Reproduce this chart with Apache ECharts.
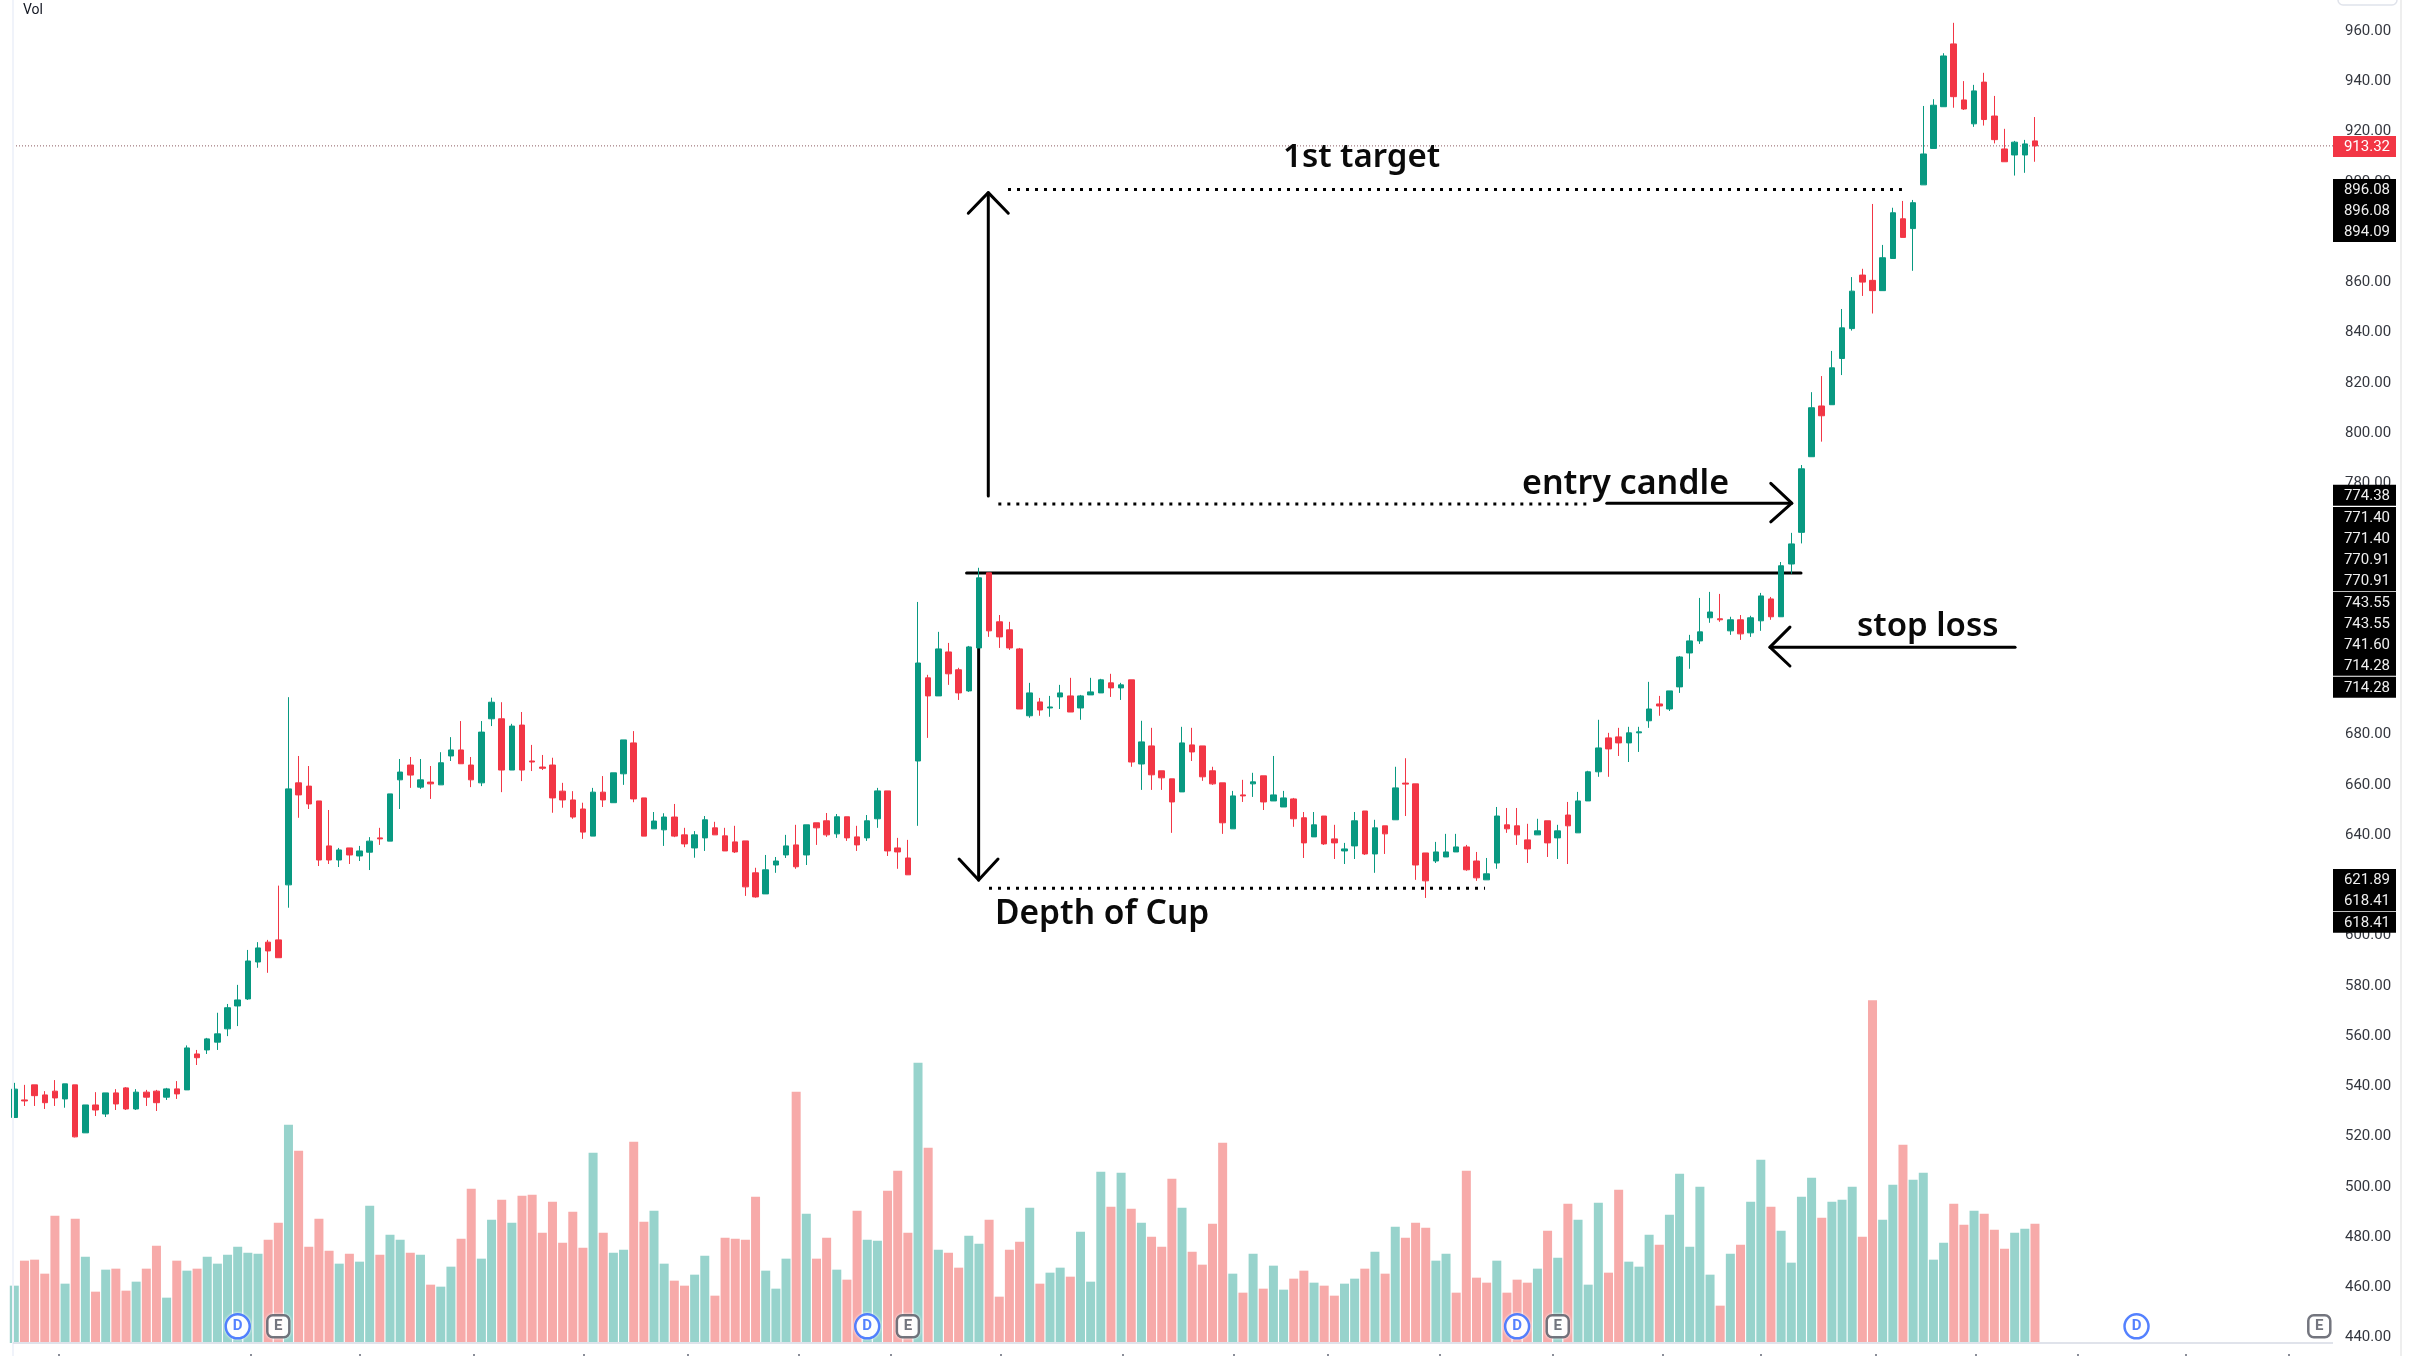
<!DOCTYPE html>
<html><head><meta charset="utf-8">
<style>html,body{margin:0;padding:0;background:#fff}#c{width:2413px;height:1356px}</style>
<script src="https://cdn.jsdelivr.net/npm/echarts@6/dist/echarts.min.js"></script>
</head><body><div id="c"></div>
<script>
// ---- values ----
const candleDir = ("uddddududu"+"dduddududu"+"uuuuuddudd"+"dduduuduud"+"uduudduudu"+"dddddddudu"+"udduudduud"+"dddduuudud"+"dudduudddu"+"dudduudddd"
  +"uduuduuudu"+"dudddudddd"+"ududuuddud"+"duudududdd"+"uuudduuddd"+"ududuuuddu"+"uuduuuuudu"+"duuduuuudu"+"uudduuduuu"+"udduddduud").split('');
const volumeDir = ("uddddududu"+"dduddududu"+"uuuuuddudd"+"dduduuduud"+"uduudduudu"+"dddddddudu"+"udduudduud"+"dddduuudud"+"dudduudddu"+"dudduudddd"
  +"uduuduuudu"+"dudddudddd"+"ududuuddud"+"duudududdd"+"uudddduddd"+"ududuuuddu"+"uuduuuuudu"+"duuduuuudu"+"uudduuduuu"+"udduddduud").split('');
const high = [540.4,539.6,539.6,537.1,541.5,540.0,539.6,531.6,536.7,536.4,
537.9,538.7,537.9,537.6,537.6,538.4,541.1,555.3,553.5,558.3,
568.3,571.8,579.4,593.3,596.4,597.3,618.9,693.9,670.5,666.5,
652.6,649.0,633.9,633.9,634.7,638.2,641.9,655.4,669.3,670.1,
669.3,666.5,672.0,678.0,684.4,670.1,684.4,693.7,691.9,683.3,
688.0,674.9,670.9,669.8,659.8,656.5,651.9,657.8,662.5,663.8,
676.9,680.4,653.8,648.2,647.7,651.4,641.9,640.6,646.6,644.3,
641.9,642.7,636.7,626.0,631.1,630.3,639.1,643.1,643.1,643.9,
647.8,647.4,646.3,642.7,647.0,657.8,656.6,637.9,637.1,731.8,
702.8,719.9,715.5,705.6,714.3,745.4,743.4,726.6,723.9,713.5,
699.6,693.6,694.4,698.8,701.6,694.8,701.6,701.2,703.2,699.6,
700.8,684.5,681.7,664.6,661.4,682.1,681.7,674.5,666.2,659.8,
656.6,661.0,663.8,662.6,670.5,656.6,653.8,648.2,648.2,646.6,
643.1,635.9,648.2,648.6,645.1,642.7,666.2,669.6,659.4,631.9,
636.3,639.5,639.5,635.1,632.3,629.9,650.2,649.8,649.8,643.5,
645.5,644.7,643.1,652.2,656.2,664.6,684.9,679.7,681.7,682.1,
682.1,700.0,694.4,696.4,710.3,718.7,733.4,735.8,735.0,725.9,
726.6,726.3,735.4,733.8,747.7,759.3,786.3,815.3,821.7,831.7,
848.4,861.1,864.4,890.2,873.9,888.7,891.4,891.8,929.2,931.9,
950.2,962.3,939.1,937.6,942.4,933.2,920.1,915.3,915.7,924.8];
const bodyTop = [537.9,533.6,539.6,535.6,537.1,540.0,539.6,531.6,531.6,536.4,
536.4,538.4,536.7,536.7,537.1,538.0,538.0,554.3,551.9,557.9,
559.9,570.3,573.4,588.9,594.1,596.4,597.3,657.4,659.8,658.5,
652.6,634.7,633.1,633.9,632.7,636.6,637.9,655.4,664.1,666.9,
661.0,660.1,667.8,672.9,672.9,666.9,680.0,691.9,685.3,682.4,
682.8,668.5,666.1,666.9,656.5,653.0,649.4,656.1,656.1,663.8,
676.9,675.7,653.8,644.6,646.2,646.2,639.1,639.1,645.1,641.9,
638.7,636.3,636.7,624.0,625.2,628.7,634.7,635.1,643.1,643.9,
644.7,646.3,646.3,638.3,644.7,656.6,656.6,633.9,629.9,707.5,
701.6,713.1,711.9,704.8,713.9,741.4,743.4,723.9,720.7,713.1,
695.6,692.0,690.0,695.6,694.4,694.4,696.0,700.8,699.6,698.8,
700.8,676.1,674.5,664.6,661.4,675.7,674.9,674.5,664.6,659.8,
654.6,655.0,660.2,662.6,655.0,653.8,653.4,645.9,643.1,646.6,
637.5,633.5,644.7,648.6,641.9,642.7,657.8,659.7,659.4,631.9,
632.3,632.3,634.3,634.3,628.7,623.6,646.6,643.1,642.7,637.1,
640.7,644.7,640.7,647.0,652.6,664.2,673.7,677.7,678.1,679.7,
680.1,689.2,691.2,696.4,709.9,716.3,719.9,727.8,725.1,724.7,
724.7,725.5,734.2,733.0,746.2,754.9,784.8,809.1,809.8,825.0,
840.9,855.5,861.9,859.8,868.8,886.7,884.3,890.7,910.1,929.5,
949.1,953.9,931.6,935.2,938.7,925.2,912.1,914.8,914.1,915.3];
const bodyBottom = [526.6,533.2,535.3,532.5,534.4,534.0,518.9,520.5,529.6,528.0,
532.0,530.0,530.0,534.7,532.5,534.7,536.0,537.6,550.4,553.5,
556.6,561.9,571.0,573.8,588.5,592.9,590.2,619.2,655.0,651.4,
629.1,629.1,629.1,631.1,630.7,632.2,637.5,636.6,661.0,662.9,
658.1,659.4,659.0,670.5,667.4,661.0,659.8,685.3,664.9,664.9,
664.9,668.1,665.6,653.8,653.0,646.2,640.2,638.6,653.0,651.9,
663.4,653.4,638.6,641.5,641.1,638.6,635.5,633.9,637.9,639.1,
632.7,632.3,618.4,614.4,615.6,627.1,631.1,626.4,631.1,641.9,
639.1,639.5,637.9,635.1,637.9,645.5,632.7,632.3,623.2,668.5,
694.4,694.4,703.2,695.6,696.4,713.5,720.3,717.9,713.5,689.2,
686.5,688.8,689.6,694.0,688.0,689.6,694.8,695.6,697.6,697.6,
668.1,667.3,663.0,661.8,652.2,656.2,672.1,662.2,659.4,643.9,
641.5,654.6,659.4,652.2,652.6,650.2,645.5,635.9,638.3,635.5,
635.9,632.7,634.7,631.5,631.5,639.5,645.1,659.3,627.1,620.8,
628.7,630.3,632.3,625.2,622.0,621.2,627.9,641.5,639.1,633.5,
639.1,635.9,637.9,642.7,639.9,652.6,664.2,673.3,675.7,675.7,
679.7,684.5,690.4,689.2,698.0,711.5,716.3,725.5,724.7,720.3,
719.1,719.5,724.3,725.9,725.9,746.9,759.5,789.6,805.9,810.3,
828.7,840.6,859.1,855.7,855.7,868.5,876.9,880.4,897.8,912.3,
928.9,932.9,928.0,922.1,923.8,915.8,907.0,909.7,909.7,913.32];
const low = [526.6,531.2,531.2,530.0,531.2,530.5,518.7,520.5,527.2,526.8,
529.6,529.6,529.6,531.2,529.2,533.6,534.0,537.6,547.5,551.9,
553.5,559.0,563.0,573.4,586.2,584.2,590.2,610.1,645.9,649.4,
626.7,627.5,626.3,627.5,628.7,625.1,635.1,636.6,649.4,657.8,
657.4,653.4,659.0,668.5,667.4,658.1,658.5,682.4,656.1,664.9,
660.5,664.5,664.9,647.9,649.9,645.5,637.5,638.6,650.2,651.9,
659.0,652.1,638.6,641.5,634.7,638.2,634.2,630.0,632.7,639.1,
632.7,631.9,614.8,614.1,615.6,624.0,629.9,625.6,627.1,635.1,
638.3,637.9,636.7,632.7,636.7,641.9,630.7,625.6,623.2,642.7,
677.7,694.4,698.8,692.8,696.0,713.5,717.9,713.5,712.7,689.2,
685.7,686.5,686.1,689.2,688.0,684.9,694.8,695.6,694.0,692.8,
666.2,657.0,657.0,657.0,639.9,656.2,668.5,660.6,659.0,639.5,
641.5,652.2,654.2,649.0,652.6,650.2,642.3,629.9,638.3,635.1,
629.5,627.5,629.5,631.1,624.0,631.5,645.1,646.6,621.2,614.0,
627.9,630.3,632.3,624.8,620.8,621.2,625.6,639.9,635.1,627.9,
639.1,630.3,629.5,627.5,639.9,652.6,662.2,662.2,670.5,668.1,
672.1,681.7,686.5,688.4,695.6,705.2,715.1,723.5,723.9,718.7,
716.7,717.9,720.3,724.7,725.9,743.0,755.1,789.6,795.6,810.3,
822.1,839.8,853.6,846.6,855.7,868.5,876.9,863.6,897.8,912.3,
928.9,928.5,927.6,920.9,921.4,914.3,907.0,901.5,902.6,907.0];
const volume = [172,247,250,208,382,178,373,259,154,220,
223,157,184,223,292,136,247,217,223,259,
238,265,289,271,268,310,361,655,577,289,
373,277,238,268,244,412,265,325,310,271,
265,175,169,229,313,463,253,370,430,361,
442,445,331,424,301,394,286,571,331,271,
280,604,364,397,238,187,172,205,262,142,
316,313,310,439,217,163,253,754,388,253,
316,220,190,397,310,307,457,517,331,841,
586,280,271,226,322,298,370,139,280,304,
406,178,211,226,199,334,184,514,409,511,
403,361,319,289,493,406,274,235,358,601,
208,151,268,163,232,160,193,217,181,172,
142,178,193,223,274,208,349,316,361,346,
247,268,151,517,196,181,247,151,190,181,
223,337,256,418,370,175,421,211,460,244,
229,325,295,385,508,289,469,205,112,268,
295,424,550,409,337,241,439,496,376,424,
430,469,319,1028,370,475,595,490,511,250,
301,418,355,397,388,340,283,331,343,358];
const priceTicks = [440,460,480,500,520,540,560,580,600,620,640,660,680,700,720,740,760,780,800,820,840,860,880,900,920,940,960];
const lastPrice = 913.32;
const dividendBars = [22,84,148,209];
const earningsBars = [26,88,152,227];
const tagStacks = [
  {rows:['896.08','896.08','894.09'], top:179},
  {rows:['774.38'], top:484.7},
  {rows:['771.40','771.40','770.91','770.91'], top:507},
  {rows:['743.55','743.55','741.60','714.28'], top:591.7},
  {rows:['714.28'], top:676.7},
  {rows:['621.89','618.41'], top:869},
  {rows:['618.41'], top:911.7}
];
// Drawn annotations, in [bar index, price]
const solidStrokes = [
  [[93.78,743.3],[175.96,743.3]],
  [[94.97,714.3],[94.97,621.1]],
  [[93.04,629.5],[94.97,621.1],[96.88,629.5]],
  [[95.92,774.0],[95.92,894.7]],
  [[93.95,886.5],[95.92,894.7],[97.89,886.5]],
  [[156.83,771.1],[175.05,771.1]],
  [[172.98,779.0],[175.05,771.1],[172.98,763.7]],
  [[197.04,713.8],[172.9,713.8]],
  [[174.87,721.8],[172.9,713.8],[174.87,706.3]]
];
const dottedStrokes = [
  [[97.86,896.0],[185.9,896.0]],
  [[96.91,770.8],[154.85,770.8]],
  [[95.99,617.9],[144.84,617.9]]
];
const noteTexts = [
  {text:'1st target', x:1283, y:158, size:33},
  {text:'entry candle', x:1522, y:484, size:34},
  {text:'stop loss', x:1857, y:626.5, size:33},
  {text:'Depth of Cup', x:995, y:914, size:33.5}
];
const timeStubX = [58,250,359,473,583,687,798,890,1000,1122,1233,1327,1439,1552,1662,1760,1875,1975,2077,2185,2288];

// ---- chart ----
const GREEN='#089981', RED='#f23645', VGREEN='#97d3cc', VRED='#f7aaa9';
const candles = high.map((h,i)=> candleDir[i]==='u'
  ? [i,bodyBottom[i],bodyTop[i],low[i],h] : [i,bodyTop[i],bodyBottom[i],low[i],h]);
const bars = volume.map((v,i)=>({value:[i,v],itemStyle:{color:volumeDir[i]==='u'?VGREEN:VRED}}));
const chart = echarts.init(document.getElementById('c'),null,{renderer:'canvas'});
const strokeSeries = (d,style,z)=>({type:'line',xAxisIndex:0,yAxisIndex:0,data:d,showSymbol:false,symbol:'none',silent:true,animation:false,z,lineStyle:style,clip:true});
const g = [];
const rect=(x,y,w,h,fill,extra)=>Object.assign({type:'rect',silent:true,z:100,shape:{x,y,width:w,height:h},style:{fill}},extra||{});
g.push(rect(12,0,2,1356,'#f0f3fa'));
g.push(rect(2400,0,2,1356,'#eeeeee'));
g.push(rect(13,1342,2320,2,'#e0e3eb'));
g.push({type:'rect',silent:true,z:100,shape:{x:2338,y:-20,width:59,height:25,r:5},style:{fill:'none',stroke:'#e0e3eb',lineWidth:1.5}});
g.push({type:'text',silent:true,z:100,style:{text:'Vol',x:23,y:10.5,font:'14px Roboto',fill:'#131722',verticalAlign:'middle'}});
timeStubX.forEach(x=>g.push(rect(x,1354,2,2,'#8a8d98')));
tagStacks.forEach(s=>{
  g.push(rect(2333,s.top,63,21*s.rows.length,'#000000',{z:101}));
  s.rows.forEach((t,i)=>g.push({type:'text',silent:true,z:102,style:{text:t,x:2390,y:s.top+21*i+11.5,align:'right',verticalAlign:'middle',font:'15px Roboto',fill:'#eeeeee'}}));
});
g.push(rect(2333,136,63,21,RED,{z:101}));
g.push({type:'text',silent:true,z:102,style:{text:lastPrice.toFixed(2),x:2390,y:147.5,align:'right',verticalAlign:'middle',font:'15px Roboto',fill:'#ffffff'}});
noteTexts.forEach(n=>g.push({type:'text',silent:true,z:110,style:{text:n.text,x:n.x,y:n.y,verticalAlign:'middle',font:'600 '+n.size+'px "Noto Sans"',fill:'#0a0a0a'}}));

chart.setOption({
  animation:false,backgroundColor:'#ffffff',tooltip:{show:false},legend:{show:false},
  grid:{left:13,right:80,top:0,bottom:13,containLabel:false},
  xAxis:{type:'value',min:-0.128,max:228.35,show:false,splitLine:{show:false}},
  yAxis:[
    {type:'value',position:'right',min:436.86,max:971.38,scale:true,splitLine:{show:false},axisLine:{show:false},axisTick:{show:false},
     axisLabel:{show:true,margin:12,customValues:priceTicks,formatter:v=>'{p|'+Number(v).toFixed(2)+'}',align:'left',
       rich:{p:{fontFamily:'Roboto',fontSize:15,color:'#34373f',padding:[5,0,0,0]}}}},
    {type:'value',min:0,max:4029,show:false,splitLine:{show:false}}
  ],
  series:[
    {type:'bar',xAxisIndex:0,yAxisIndex:1,data:bars,barWidth:9,silent:true,z:1,animation:false,clip:true},
    strokeSeries([[-0.128,lastPrice],[228.35,lastPrice]],{color:'#8a5a60',width:1,type:[1,2]},1),
    ...solidStrokes.map(s=>strokeSeries(s,{color:'#000',width:3,cap:'round',join:'round'},2)),
    ...dottedStrokes.map(s=>strokeSeries(s,{color:'#000',width:3,type:[3,6],cap:'butt'},2)),
    {type:'candlestick',xAxisIndex:0,yAxisIndex:0,data:candles,barWidth:6,silent:true,z:3,animation:false,clip:true,large:false,progressive:0,
     itemStyle:{color:GREEN,color0:RED,borderColor:GREEN,borderColor0:RED,borderWidth:1}},
    {type:'scatter',xAxisIndex:0,yAxisIndex:1,data:dividendBars.map(i=>[i,50]),symbol:'circle',symbolSize:24,silent:true,z:5,animation:false,clip:false,
     itemStyle:{color:'#fff',borderColor:'#2962ff',borderWidth:2.5,shadowColor:'#fff',shadowBlur:3},
     label:{show:true,position:'inside',formatter:'D',color:'#2962ff',fontFamily:'Roboto',fontWeight:700,fontSize:15}},
    {type:'scatter',xAxisIndex:0,yAxisIndex:1,data:earningsBars.map(i=>[i,50]),symbol:'roundRect',symbolSize:22,silent:true,z:5,animation:false,clip:false,
     itemStyle:{color:'#fff',borderColor:'#50535e',borderWidth:2.5,shadowColor:'#fff',shadowBlur:3},
     label:{show:true,position:'inside',formatter:'E',color:'#50535e',fontFamily:'Roboto',fontWeight:700,fontSize:15}}
  ],
  graphic:{elements:g}
});
</script>
</body></html>
